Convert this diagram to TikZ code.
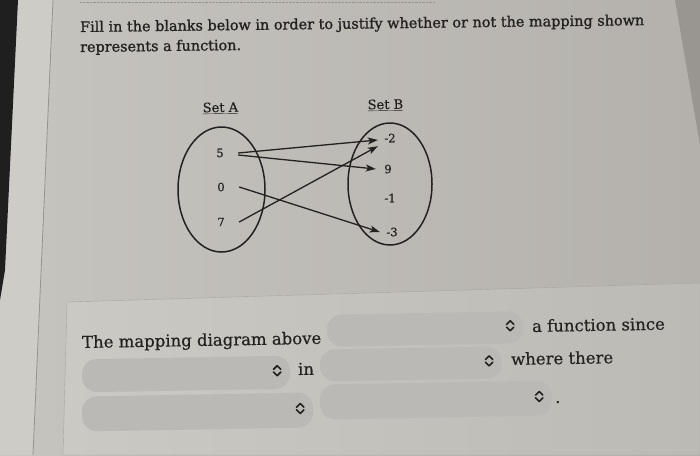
\documentclass[tikz,border=0pt]{standalone}
\usepackage{fontspec}
\setmainfont{DejaVu Serif}
\newfontfamily\heavyserif[FakeBold=1.2]{DejaVu Serif}
\newfontfamily\midserif[FakeBold=0.5]{DejaVu Serif}
\usetikzlibrary{shapes.geometric,arrows.meta}

\definecolor{inkc}{RGB}{36,34,32}
\definecolor{pageleft}{RGB}{198,196,191}
\definecolor{pageright}{RGB}{180,177,172}
\definecolor{framebg}{RGB}{206,204,199}
\definecolor{edgec}{RGB}{150,148,144}
\definecolor{panelleft}{RGB}{203,201,196}
\definecolor{panelright}{RGB}{188,186,181}
\definecolor{panelline}{RGB}{168,166,162}
\definecolor{boxbg}{RGB}{186,185,181}

\begin{document}
\begin{tikzpicture}[x=1pt,y=-1pt,
	title/.style={font=\heavyserif\fontsize{14.4}{17}\selectfont,text=inkc,inner sep=0pt,rotate=0.7},
	setlbl/.style={font=\midserif\fontsize{13}{15}\selectfont,text=inkc,inner sep=0pt,rotate=1},
	elem/.style={font=\midserif\fontsize{11.5}{13}\selectfont,text=inkc,inner sep=0pt,minimum height=16pt},
	map/.style={draw=inkc,line width=1.3pt,-{Stealth[length=10pt,width=7pt,inset=2.5pt]}},
	ask/.style={font=\midserif\fontsize{16.5}{19}\selectfont,text=inkc,inner sep=0pt,rotate=1},
	select/.style={fill=boxbg,rounded corners=15pt,minimum height=32pt,inner sep=0pt,rotate=1},
	pics/updown/.style={code={
		\draw[inkc,line width=1.6pt,line cap=round,line join=round] (-3.7,-1.3) -- (0,-5) -- (3.7,-1.3);
		\draw[inkc,line width=1.6pt,line cap=round,line join=round] (-3.7,1.3) -- (0,5) -- (3.7,1.3);
	}}]
	\useasboundingbox (0,0) rectangle (700,455);
	% screen, bezel and the dark edge of the photo
	\shade[left color=pageleft,right color=pageright] (0,0) rectangle (700,455);
	\fill[framebg] (0,0) -- (53,0) -- (33,455) -- (0,455) -- cycle;
	\fill[black!88] (0,0) -- (18,0) -- (5,270) -- (0,300) -- cycle;
	\draw[edgec,line width=0.8pt] (53,0) -- (33,455);
	\fill[pageright!85!black] (675,0) -- (700,0) -- (700,145) -- cycle;
	\draw[edgec,densely dotted] (80,2) -- (435,2);

	% question
	\node[title,anchor=base west] (titleA) at (80,32) {Fill in the blanks below in order to justify whether or not the mapping shown};
	\node[title,anchor=base west] (titleB) at (80,52) {represents a function.};

	% the two sets
	\node[setlbl,anchor=base] (lblA) at (220.5,112) {\underline{Set A}};
	\node[setlbl,anchor=base] (lblB) at (385.5,109) {\underline{Set B}};
	\node[draw=inkc,line width=1.5pt,ellipse,inner sep=0pt,minimum width=87pt,minimum height=125pt] (setA) at (221.5,189.5) {};
	\node[draw=inkc,line width=1.5pt,ellipse,inner sep=0pt,minimum width=84pt,minimum height=122pt] (setB) at (390,184) {};

	\node[elem,minimum width=36pt] (a5) at (220,153) {5};
	\node[elem,minimum width=36pt] (a0) at (221,187) {0};
	\node[elem,minimum width=36pt] (a7) at (221,222) {7};

	\node[elem,minimum width=24pt] (bm2) at (390,138) {-2};
	\node[elem,minimum width=24pt] (b9)  at (388,169) {9};
	\node[elem,minimum width=24pt] (bm1) at (390,198) {-1};
	\node[elem,minimum width=24pt] (bm3) at (392,232) {-3};

	\draw[map] (a5.east) -- ([yshift=-2pt]bm2.west);
	\draw[map] ([yshift=-2pt]a5.east) -- (b9.west);
	\draw[map] (a0.east) -- (bm3.west);
	\draw[map] (a7.east) -- (bm2.south west);

	% answer panel
	\shade[left color=panelleft,right color=panelright,draw=panelline] (67,302) -- (700,283) -- (700,455) -- (63,455) -- cycle;

	\node[ask,anchor=base west] (txtAbove) at (82,348) {The mapping diagram above};
	\node[select,minimum width=196pt] (selOne) at (425,329) {};
	\node[ask,anchor=base west] (txtSince) at (532,332) {a function since};

	\node[select,minimum width=208pt,minimum height=33pt] (selTwo) at (186,374) {};
	\node[ask,anchor=base west] (txtIn) at (298,375) {in};
	\node[select,minimum width=182pt] (selThree) at (411,364) {};
	\node[ask,anchor=base west] (txtThere) at (511,365) {where there};

	\node[select,minimum width=231pt,minimum height=35pt] (selFour) at (197.5,412) {};
	\node[select,minimum width=232pt,minimum height=35pt] (selFive) at (436,400) {};
	\node[ask,anchor=base west] (txtDot) at (555,403) {.};

	\foreach \s in {selOne,selTwo,selThree,selFour,selFive}
		\pic at ([xshift=-13pt,yshift=1.5pt]\s.east) {updown};
\end{tikzpicture}
\end{document}
